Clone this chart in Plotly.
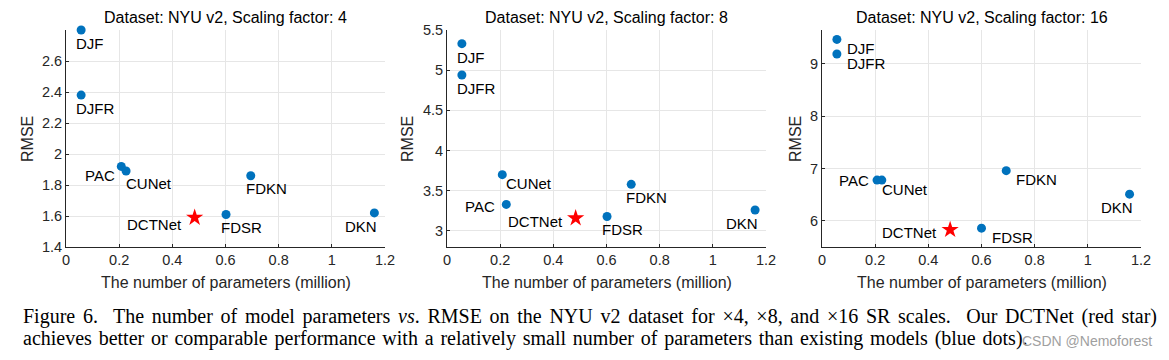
import plotly.graph_objects as go

W, H = 1169, 360

# ---------------- data ----------------
titles = ["Dataset: NYU v2, Scaling factor: 4",
          "Dataset: NYU v2, Scaling factor: 8",
          "Dataset: NYU v2, Scaling factor: 16"]

x4_names = ["DJF", "DJFR", "PAC", "CUNet", "FDKN", "FDSR", "DKN"]
x4_params = [0.057, 0.057, 0.208, 0.226, 0.695, 0.602, 1.160]
x4_rmse = [2.80, 2.38, 1.92, 1.89, 1.86, 1.61, 1.62]
x4_ours_params = [0.484]
x4_ours_rmse = [1.59]

x8_names = ["DJF", "DJFR", "CUNet", "PAC", "FDKN", "FDSR", "DKN"]
x8_params = [0.056, 0.056, 0.208, 0.223, 0.693, 0.602, 1.159]
x8_rmse = [5.33, 4.94, 3.70, 3.33, 3.58, 3.18, 3.26]
x8_ours_params = [0.484]
x8_ours_rmse = [3.16]

x16_names = ["DJF", "DJFR", "PAC", "CUNet", "FDKN", "FDSR", "DKN"]
x16_params = [0.056, 0.056, 0.207, 0.225, 0.693, 0.600, 1.157]
x16_rmse = [9.47, 9.19, 6.78, 6.78, 6.96, 5.86, 6.51]
x16_ours_params = [0.482]
x16_ours_rmse = [5.83]

ours_name = "DCTNet"

x_ticks = [0, 0.2, 0.4, 0.6, 0.8, 1.0, 1.2]
y4_ticks = [1.4, 1.6, 1.8, 2.0, 2.2, 2.4, 2.6]
y8_ticks = [3.0, 3.5, 4.0, 4.5, 5.0, 5.5]
y16_ticks = [6, 7, 8, 9]

x_label = "The number of parameters (million)"
y_label = "RMSE"

caption1 = ("Figure 6.  The number of model parameters <i>vs</i>. RMSE on the NYU v2 dataset "
            "for \u00d74, \u00d78, and \u00d716 SR scales.  Our DCTNet (red star)")
caption2 = ("achieves better or comparable performance with a relatively small number "
            "of parameters than existing models (blue dots).")
watermark = "CSDN @Nemoforest"

# ---------------- styling / layout ----------------
BLUE = "#0072BD"
AX = "#262626"
GRID = "#e6e6e6"
SANS = "Liberation Sans, Arial, sans-serif"
SERIF = "Liberation Serif, Times New Roman, serif"

# pixel boxes of the three axes (left, right)
xpix = [(66, 385), (447, 766), (822, 1141)]
ytop, ybot = 30, 247
yranges = [[1.4, 2.8], [2.8, 5.5], [5.5, 9.65]]
yticks = [y4_ticks, y8_ticks, y16_ticks]
ylabel_x = [27, 407, 795]

# label placement per panel: (anchor, dx px, dy px downward) per method, then ours
lab4 = [("left", -7, 13), ("left", -7, 13), ("right", -4, 9), ("left", -2, 12),
        ("left", -7, 13), ("left", -7, 13), ("right", 5, 14)]
lab8 = [("left", -7, 14), ("left", -7, 13), ("left", 2, 9), ("right", -9, 2),
        ("left", -7, 13), ("left", -7, 13), ("right", 5, 13)]
lab16 = [("left", 8, 9), ("left", 8, 9), ("right", -6, 0), ("left", -2, 9),
         ("left", 8, 9), ("left", 8, 9), ("right", 5, 13)]
ours_lab = [("right", -11, 7), ("right", -11, 3), ("right", -11, 3)]

panels = [
    (x4_names, x4_params, x4_rmse, x4_ours_params, x4_ours_rmse, lab4),
    (x8_names, x8_params, x8_rmse, x8_ours_params, x8_ours_rmse, lab8),
    (x16_names, x16_params, x16_rmse, x16_ours_params, x16_ours_rmse, lab16),
]

fig = go.Figure()
annotations = []
layout_axes = {}

for i, (names, px, ry, opx, ory, labs) in enumerate(panels):
    n = "" if i == 0 else str(i + 1)
    xa, ya = "x" + n, "y" + n
    fig.add_trace(go.Scatter(x=px, y=ry, mode="markers", xaxis=xa, yaxis=ya,
                             marker=dict(color=BLUE, size=9, line=dict(width=0)),
                             showlegend=False, cliponaxis=False))
    fig.add_trace(go.Scatter(x=opx, y=ory, mode="markers", xaxis=xa, yaxis=ya,
                             marker=dict(color="#FF0000", size=13, symbol="star",
                                         line=dict(width=0)),
                             showlegend=False, cliponaxis=False))
    for name, xv, yv, (anc, dx, dy) in zip(names, px, ry, labs):
        annotations.append(dict(x=xv, y=yv, xref=xa, yref=ya, text=name, showarrow=False,
                                xanchor=anc, yanchor="middle", xshift=dx, yshift=-dy,
                                font=dict(family=SANS, size=15, color="#000000")))
    anc, dx, dy = ours_lab[i]
    annotations.append(dict(x=opx[0], y=ory[0], xref=xa, yref=ya, text=ours_name,
                            showarrow=False, xanchor=anc, yanchor="middle",
                            xshift=dx, yshift=-dy,
                            font=dict(family=SANS, size=15, color="#000000")))

    l, r = xpix[i]
    common = dict(showline=True, linecolor=AX, linewidth=1, mirror=False,
                  ticks="inside", ticklen=3, tickcolor=AX, tickwidth=1,
                  showgrid=True, gridcolor=GRID, gridwidth=1, zeroline=False,
                  automargin=False,
                  tickfont=dict(family=SANS, size=14.5, color=AX))
    layout_axes["xaxis" + n] = dict(domain=[l / W, r / W], range=[0, 1.2],
                                    tickvals=x_ticks, anchor=ya, **common)
    layout_axes["yaxis" + n] = dict(domain=[1 - ybot / H, 1 - ytop / H], range=yranges[i],
                                    tickvals=yticks[i], anchor=xa, **common)
    cx = (l + r) / 2 / W
    annotations.append(dict(x=cx, y=1 - 17 / H, xref="paper", yref="paper",
                            text=titles[i], showarrow=False, xanchor="center",
                            yanchor="middle",
                            font=dict(family=SANS, size=16, color="#000000")))
    annotations.append(dict(x=cx, y=1 - 282 / H, xref="paper", yref="paper",
                            text=x_label, showarrow=False, xanchor="center",
                            yanchor="middle",
                            font=dict(family=SANS, size=16, color=AX)))
    annotations.append(dict(x=ylabel_x[i] / W, y=1 - 139 / H, xref="paper", yref="paper",
                            text=y_label, showarrow=False, textangle=-90,
                            xanchor="center", yanchor="middle",
                            font=dict(family=SANS, size=16, color=AX)))

annotations.append(dict(x=21 / W, y=1 - 316 / H, xref="paper", yref="paper",
                        text='<span style="word-spacing:2.7px">' + caption1 + '</span>',
                        showarrow=False, xanchor="left", yanchor="middle",
                        font=dict(family=SERIF, size=20, color="#000000")))
annotations.append(dict(x=21 / W, y=1 - 338 / H, xref="paper", yref="paper",
                        text='<span style="word-spacing:1.8px">' + caption2 + '</span>',
                        showarrow=False, xanchor="left", yanchor="middle",
                        font=dict(family=SERIF, size=20, color="#000000")))
annotations.append(dict(x=1020 / W, y=1 - 341 / H, xref="paper", yref="paper",
                        text=watermark, showarrow=False, xanchor="left", yanchor="middle",
                        font=dict(family=SANS, size=14, color="#a0a0a0")))

fig.update_layout(width=W, height=H, margin=dict(l=0, r=0, t=0, b=0),
                  paper_bgcolor="white", plot_bgcolor="white",
                  annotations=annotations, **layout_axes)

fig.write_html("out.html", config={"displayModeBar": False},
               post_script="document.body.style.margin='0';document.body.style.padding='0';")
